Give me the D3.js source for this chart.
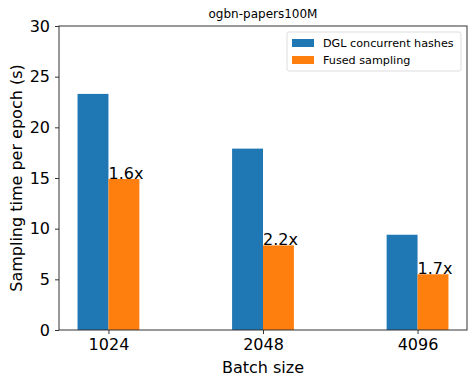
<!DOCTYPE html>
<html>
<head>
<meta charset="utf-8">
<script src="https://cdn.jsdelivr.net/npm/d3@7"></script>
<style>
  body { margin: 0; background: #fff; }
  text { font-family: "DejaVu Sans", sans-serif; fill: #000; }
</style>
</head>
<body>
<div id="chart"></div>
<script>
// values
const batchSizes = ["1024", "2048", "4096"];
const dglHashes = [23.3, 17.9, 9.4];
const fusedSampling = [14.9, 8.35, 5.5];
const speedups = ["1.6x", "2.2x", "1.7x"];
const yTicks = [0, 5, 10, 15, 20, 25, 30];
const seriesNames = ["DGL concurrent hashes", "Fused sampling"];
const colors = ["#1f77b4", "#ff7f0e"];

const width = 474, height = 384;
const margin = { top: 26, right: 7, bottom: 54, left: 59 };
const barW = 0.2;

const svg = d3.select("#chart").append("svg")
  .attr("width", width)
  .attr("height", height);

const x = d3.scaleLinear()
  .domain([-0.32, 2.32])
  .range([margin.left, width - margin.right]);

const y = d3.scaleLinear()
  .domain([0, 30])
  .range([height - margin.bottom, margin.top]);

// bars
const g = svg.append("g");
g.selectAll(".dgl")
  .data(dglHashes)
  .enter().append("rect")
  .attr("x", (d, i) => x(i - barW))
  .attr("y", d => y(d))
  .attr("width", x(barW) - x(0))
  .attr("height", d => y(0) - y(d))
  .attr("fill", colors[0]);

g.selectAll(".fused")
  .data(fusedSampling)
  .enter().append("rect")
  .attr("x", (d, i) => x(i))
  .attr("y", d => y(d))
  .attr("width", x(barW) - x(0))
  .attr("height", d => y(0) - y(d))
  .attr("fill", colors[1]);

// speedup labels
g.selectAll(".speedup")
  .data(fusedSampling)
  .enter().append("text")
  .attr("x", (d, i) => x(i))
  .attr("y", d => y(d))
  .attr("font-size", 16)
  .text((d, i) => speedups[i]);

// axes
const xAxis = svg.append("g")
  .attr("transform", `translate(0,${height - margin.bottom})`)
  .call(d3.axisBottom(x).tickValues([0, 1, 2]).tickFormat(i => batchSizes[i]).tickSize(4).tickPadding(5));

const yAxis = svg.append("g")
  .attr("transform", `translate(${margin.left},0)`)
  .call(d3.axisLeft(y).tickValues(yTicks).tickSize(4).tickPadding(5));

[xAxis, yAxis].forEach(ax => {
  ax.select(".domain").remove();
  ax.selectAll("text").attr("font-size", 16).attr("font-family", "DejaVu Sans, sans-serif");
  ax.selectAll("line").attr("stroke", "#333");
});

// frame
svg.append("rect")
  .attr("x", margin.left)
  .attr("y", margin.top)
  .attr("width", width - margin.left - margin.right)
  .attr("height", height - margin.top - margin.bottom)
  .attr("fill", "none")
  .attr("stroke", "#333")
  .attr("stroke-width", 1);

// title and labels
svg.append("text")
  .attr("x", (margin.left + width - margin.right) / 2)
  .attr("y", 18)
  .attr("text-anchor", "middle")
  .attr("font-size", 12)
  .text("ogbn-papers100M");

svg.append("text")
  .attr("x", (margin.left + width - margin.right) / 2)
  .attr("y", 373)
  .attr("text-anchor", "middle")
  .attr("font-size", 16)
  .text("Batch size");

svg.append("text")
  .attr("transform", `translate(22,${(margin.top + height - margin.bottom) / 2}) rotate(-90)`)
  .attr("text-anchor", "middle")
  .attr("font-size", 16)
  .text("Sampling time per epoch (s)");

// legend
const legend = svg.append("g").attr("transform", "translate(287,32)");
legend.append("rect")
  .attr("width", 174)
  .attr("height", 39)
  .attr("rx", 2)
  .attr("fill", "#fff")
  .attr("stroke", "#ddd");
seriesNames.forEach((name, i) => {
  legend.append("rect")
    .attr("x", 5)
    .attr("y", 7 + i * 17)
    .attr("width", 22)
    .attr("height", 8)
    .attr("fill", colors[i]);
  legend.append("text")
    .attr("x", 36)
    .attr("y", 15 + i * 17)
    .attr("font-size", 11.2)
    .text(name);
});
</script>
</body>
</html>
